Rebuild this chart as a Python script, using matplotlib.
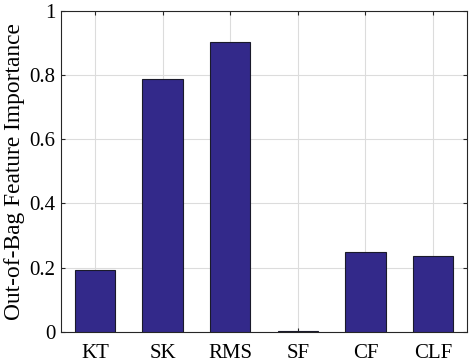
import matplotlib.pyplot as plt
import numpy as np

features = ['KT', 'SK', 'RMS', 'SF', 'CF', 'CLF']
importance = [0.192, 0.789, 0.902, 0.002, 0.248, 0.235]

plt.rcParams['font.family'] = ['Liberation Serif', 'DejaVu Serif']

fig = plt.figure(figsize=(4.74, 3.62), dpi=100)
ax = fig.add_axes([61 / 474, 1 - 331.7 / 362, 406 / 474, 320.7 / 362])

x = np.arange(1, len(features) + 1)
ax.bar(x, importance, width=0.6, color='#33298a', edgecolor='#1a1a2a',
       linewidth=0.8, zorder=3)

ax.set_xlim(0.5, len(features) + 0.5)
ax.set_ylim(0, 1)
ax.set_xticks(x)
ax.set_xticklabels(features)
ax.set_yticks([0, 0.2, 0.4, 0.6, 0.8, 1])
ax.set_yticklabels(['0', '0.2', '0.4', '0.6', '0.8', '1'])
ax.set_ylabel('Out-of-Bag Feature Importance', fontsize=16.8, labelpad=3)

ax.grid(True, color='#dcdcdc', linewidth=0.8, zorder=0)
ax.set_axisbelow(True)
ax.tick_params(direction='in', top=True, right=True, length=3,
               width=0.8, color='#262626', labelsize=15)
ax.tick_params(axis='x', pad=9)
ax.tick_params(axis='y', pad=4)
for s in ax.spines.values():
    s.set_color('#262626')
    s.set_linewidth(0.8)

fig.savefig('out.png', dpi=100)
